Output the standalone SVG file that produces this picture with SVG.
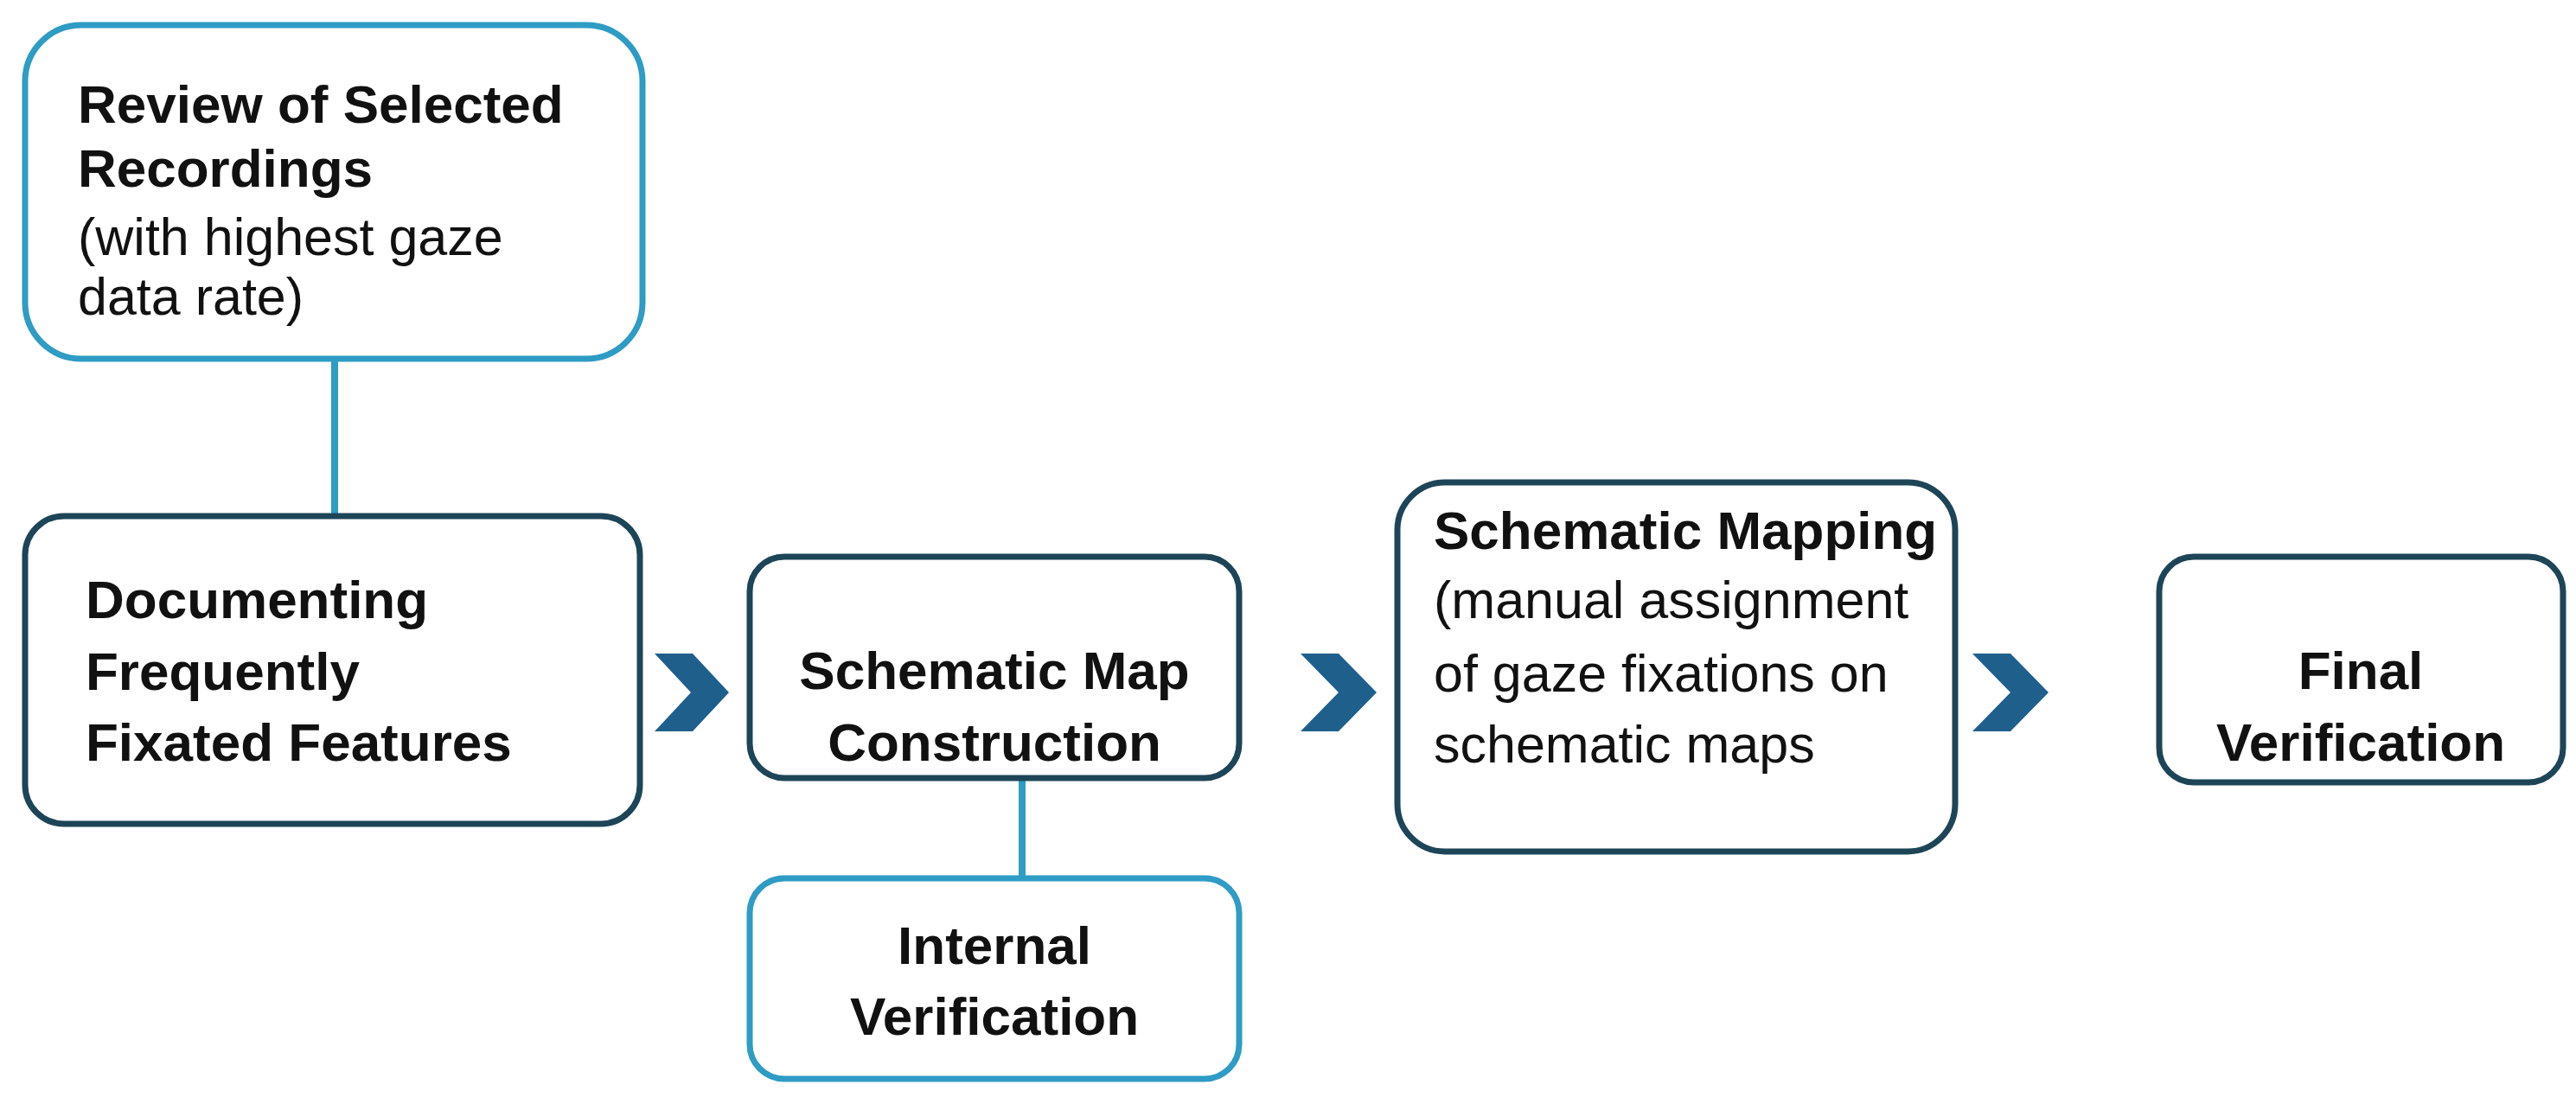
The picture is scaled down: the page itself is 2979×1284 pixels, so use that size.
<svg xmlns="http://www.w3.org/2000/svg" width="2979" height="1284" viewBox="0 0 2979 1284">
<style>
.lb{fill:#fff;stroke:#2e9cc4;stroke-width:7}
.dk{fill:#fff;stroke:#1d4557;stroke-width:7}
.b{font-family:"Liberation Sans",Arial,sans-serif;font-weight:bold;font-size:62px;fill:#111}
.r{font-family:"Liberation Sans",Arial,sans-serif;font-size:61px;fill:#111}
.c{text-anchor:middle}
.chev{fill:#1f5f8b}
</style>
<rect width="2979" height="1284" fill="#fff"/>
<g id="connectors">
<line x1="387" y1="415" x2="387" y2="597" stroke="#2e9cc4" stroke-width="8"/>
<line x1="1182" y1="900" x2="1182" y2="1016" stroke="#2e9cc4" stroke-width="8"/>
<polygon class="chev" points="757,756 801,756 843,801 801,846 757,846 799,801"/>
<polygon class="chev" points="1504,756 1548,756 1592,801 1548,846 1504,846 1548,801"/>
<polygon class="chev" points="2281,756 2325,756 2369,801 2325,846 2281,846 2325,801"/>
</g>
<g id="review">
<rect class="lb" x="29" y="29" width="714" height="386" rx="65"/>
<text class="b" x="90" y="142">Review of Selected</text>
<text class="b" x="90" y="216">Recordings</text>
<text class="r" x="90" y="295">(with highest gaze</text>
<text class="r" x="90" y="364">data rate)</text>
</g>
<g id="documenting">
<rect class="dk" x="29" y="597" width="711" height="356" rx="45"/>
<text class="b" x="99" y="715">Documenting</text>
<text class="b" x="99" y="798">Frequently</text>
<text class="b" x="99" y="880">Fixated Features</text>
</g>
<g id="construction">
<rect class="dk" x="867" y="644" width="566" height="256" rx="40"/>
<text class="b c" x="1150" y="797">Schematic Map</text>
<text class="b c" x="1150" y="880">Construction</text>
</g>
<g id="internal">
<rect class="lb" x="867" y="1016" width="566" height="232" rx="40"/>
<text class="b c" x="1150" y="1115">Internal</text>
<text class="b c" x="1150" y="1197">Verification</text>
</g>
<g id="mapping">
<rect class="dk" x="1616" y="558" width="645" height="427" rx="55"/>
<text class="b" x="1658" y="635">Schematic Mapping</text>
<text class="r" x="1658" y="715">(manual assignment</text>
<text class="r" x="1658" y="800">of gaze fixations on</text>
<text class="r" x="1658" y="882">schematic maps</text>
</g>
<g id="final">
<rect class="dk" x="2497" y="644" width="467" height="261" rx="40"/>
<text class="b c" x="2730" y="797">Final</text>
<text class="b c" x="2730" y="880">Verification</text>
</g>
</svg>
